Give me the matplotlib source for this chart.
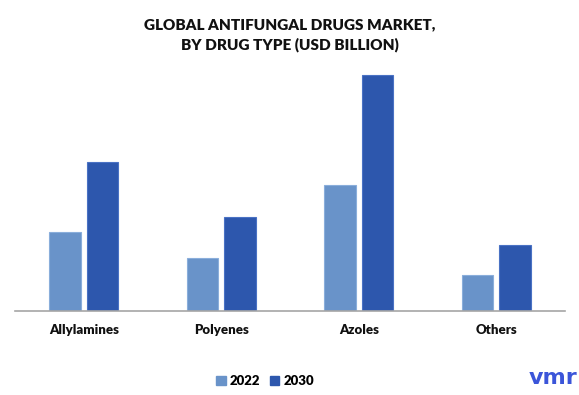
import matplotlib
matplotlib.use("Agg")
import matplotlib.pyplot as plt
import numpy as np
from matplotlib.patches import Patch

categories = ["Allylamines", "Polyenes", "Azoles", "Others"]
series_names = ["2022", "2030"]
values_2022 = [3.92, 2.65, 6.26, 1.79]
values_2030 = [7.41, 4.67, 11.75, 3.29]
title = "GLOBAL ANTIFUNGAL DRUGS MARKET,\nBY DRUG TYPE (USD BILLION)"

c2022 = "#6993c9"
c2030 = "#2d57ad"
e2022 = "#8aaedb"
e2030 = "#4a72c4"

plt.rcParams['font.family'] = ['Lato', 'DejaVu Sans']

fig = plt.figure(figsize=(5.79, 3.95), dpi=100)
ax = fig.add_axes([15/579, 84/395, 550/579, 251/395])

x = np.arange(len(categories))
w = 0.23
off = 0.136
ax.bar(x - off, values_2022, width=w, color=c2022, edgecolor=e2022, linewidth=0.8, label=series_names[0])
ax.bar(x + off, values_2030, width=w, color=c2030, edgecolor=e2030, linewidth=0.8, label=series_names[1])

ax.set_xlim(-0.5, 3.5)
ax.set_ylim(0, 12.5)
for s in ["top", "right", "left"]:
    ax.spines[s].set_visible(False)
ax.spines["bottom"].set_color("#a6a6a6")
ax.spines["bottom"].set_linewidth(1.2)
ax.set_yticks([])
ax.set_xticks(x)
ax.set_xticklabels(categories, fontsize=9.5, fontweight="heavy", color="#111111")
ax.tick_params(axis="x", length=0, pad=9)

fig.text(0.5, 1 - 35/395, title, ha="center", va="center", fontsize=11,
         fontweight="heavy", color="#111111", linespacing=1.5)

handles = [Patch(facecolor=c2022, edgecolor=c2022, label=series_names[0]),
           Patch(facecolor=c2030, edgecolor=c2030, label=series_names[1])]
leg = fig.legend(handles=handles, loc="center", bbox_to_anchor=(265/579, 1 - 381/395),
                 ncol=2, frameon=False, handlelength=0.75, handleheight=0.75,
                 handletextpad=0.3, columnspacing=0.7, prop={"weight": "heavy", "size": 9.5})

fig.text(553/579, 1 - 378/395, "vmr", ha="center", va="center", fontsize=16,
         color="#3b55d9", family="DejaVu Sans", fontweight="bold")

fig.savefig("out.png", dpi=100)
